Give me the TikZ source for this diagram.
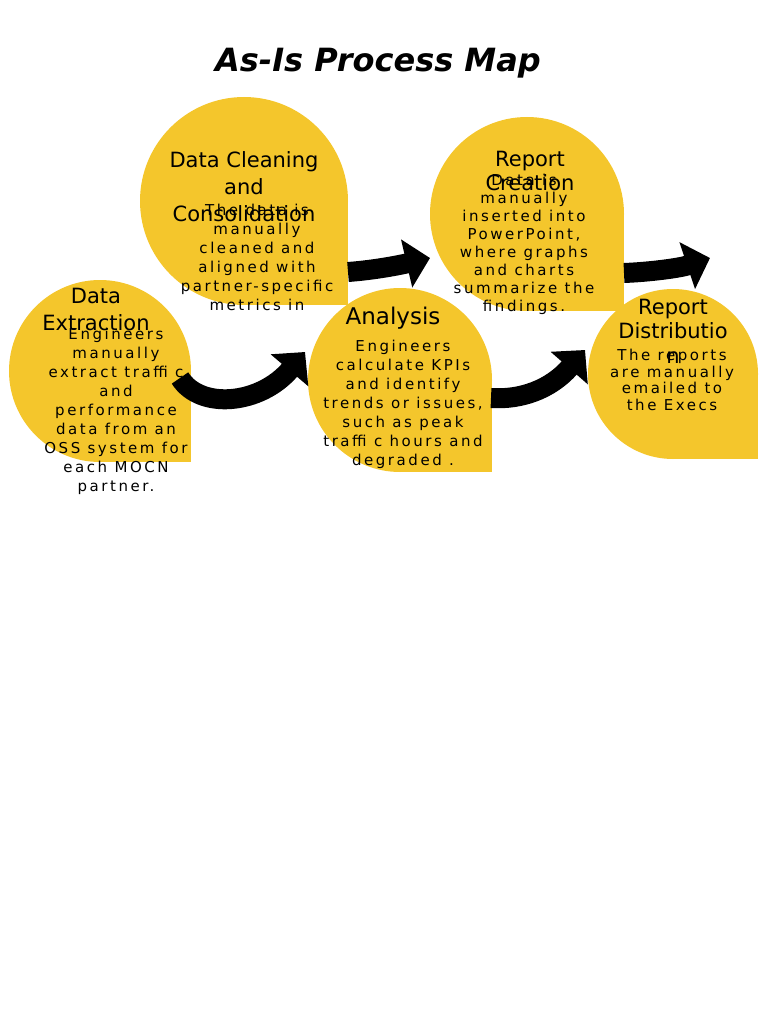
\documentclass[tikz,border=0pt]{standalone}
\usepackage{fontspec}
\setmainfont{DejaVu Sans}
\usetikzlibrary{arrows.meta}
\definecolor{gold}{HTML}{F4C62C}
\tikzset{
 ttl/.style={align=center,font=\fontsize{21}{27}\selectfont,inner sep=0},
 body/.style={align=center,font=\fontsize{15}{19}\selectfont\addfontfeatures{LetterSpace=17},inner sep=0},
 flow/.style={line width=20pt,-{Triangle[length=24pt,width=48pt]},line cap=butt}
}
\begin{document}
\begin{tikzpicture}[x=1pt,y=-1pt]
\useasboundingbox (0,0) rectangle (768,1024);
\node[font=\fontsize{32}{38}\selectfont\bfseries\itshape] (title) at (378,63) {As-Is Process Map};
% shapes
\foreach \cx/\cy/\r in {100/371/91, 244/201/104, 400/380/92, 527/214/97, 673/374/85}{
 \fill[gold] (\cx,\cy) circle (\r);
 \fill[gold] (\cx,\cy) rectangle ++(\r,\r);
}
% arrows
\coordinate (a1s) at (180,378); \coordinate (a1e) at (305,352);
\draw[flow] (a1s) .. controls (200,410) and (260,405) .. (a1e);
\coordinate (a2s) at (348,272); \coordinate (a2e) at (430,258);
\draw[flow] (a2s) .. controls (375,270) and (400,265) .. (a2e);
\coordinate (a3s) at (491,398); \coordinate (a3e) at (585,350);
\draw[flow] (a3s) .. controls (520,400) and (550,390) .. (a3e);
\coordinate (a4s) at (624,273); \coordinate (a4e) at (710,258);
\draw[flow] (a4s) .. controls (650,272) and (680,268) .. (a4e);
% texts
\node[ttl] (t1) at (96,309) {Data\\Extraction};
\node[body] (b1) at (116,411) {Engineers\\manually\\extract traffi c\\and\\performance\\data from an\\OSS system for\\each MOCN\\partner.};
\node[ttl] (t2) at (244,187) {Data Cleaning\\and\\Consolidation};
\node[body] (b2) at (257,257) {The data is\\manually\\cleaned and\\aligned with\\partner-specific\\metrics in};
\node[ttl,font=\fontsize{23}{27}\selectfont] (t3) at (393,318) {Analysis};
\node[body] (b3) at (403,404) {Engineers\\calculate KPIs\\and identify\\trends or issues,\\such as peak\\traffi c hours and\\degraded .};
\node[ttl,font=\fontsize{21}{24}\selectfont] (t4) at (530,171) {Report\\Creation};
\node[body,font=\fontsize{15}{18}\selectfont\addfontfeatures{LetterSpace=17}] (b4) at (524,244) {Data is\\manually\\inserted into\\PowerPoint,\\where graphs\\and charts\\summarize the\\findings.};
\node[ttl,font=\fontsize{21}{24.5}\selectfont] (t5) at (673,331) {Report\\Distributio\\n};
\node[body,font=\fontsize{15}{16.5}\selectfont\addfontfeatures{LetterSpace=17}] (b5) at (672,380) {The reports\\are manually\\emailed to\\the Execs};
\end{tikzpicture}
\end{document}
